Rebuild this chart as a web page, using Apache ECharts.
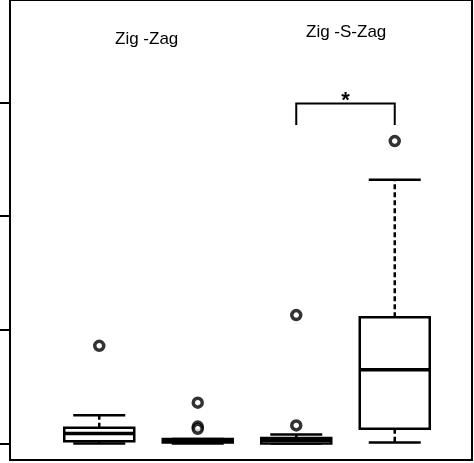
<!DOCTYPE html>
<html><head><meta charset="utf-8">
<script src="https://cdn.jsdelivr.net/npm/echarts@6/dist/echarts.min.js"></script>
<style>html,body{margin:0;background:#fff}#main{width:474px;height:463px}</style>
</head><body><div id="main"></div>
<script>
// groups (two per panel)
var categories = ['ZZ-A', 'ZZ-B', 'ZSZ-A', 'ZSZ-B'];
// [low, q1, median, q3, high]
var boxes = [
  [0.0, 0.02, 0.09, 0.14, 0.25],
  [0.0, 0.01, 0.02, 0.04, 0.04],
  [0.0, 0.0, 0.03, 0.05, 0.08],
  [0.01, 0.13, 0.65, 1.11, 2.32]
];
// [categoryIndex, value]
var outliers = [[0, 0.86], [1, 0.36], [1, 0.15], [1, 0.13], [2, 1.13], [2, 0.16], [3, 2.66]];
var panelTitles = ['Zig -Zag', 'Zig -S-Zag'];
var bracket = [[2, 3], 2.99, 2.8]; // groups, top, leg end
var yTicks = [0, 1, 2, 3];

var myChart = echarts.init(document.getElementById('main'));
var yMin = -0.144, yMax = 3.754;

function renderBox(params, api) {
  var i = api.value(0);
  var low = api.coord([i, api.value(1)]), q1 = api.coord([i, api.value(2)]),
      med = api.coord([i, api.value(3)]), q3 = api.coord([i, api.value(4)]),
      high = api.coord([i, api.value(5)]);
  var x = low[0], hw = 35, cw = 26;
  var st = {stroke: '#000', lineWidth: 2.5, fill: null};
  return {type: 'group', children: [
    {type: 'line', shape: {x1: x, y1: q3[1], x2: x, y2: high[1]}, style: {stroke: '#000', lineWidth: 2.5, lineDash: [5, 3]}},
    {type: 'line', shape: {x1: x, y1: q1[1], x2: x, y2: low[1]}, style: {stroke: '#000', lineWidth: 2.5, lineDash: [5, 3]}},
    {type: 'line', shape: {x1: x - cw, y1: high[1], x2: x + cw, y2: high[1]}, style: st},
    {type: 'line', shape: {x1: x - cw, y1: low[1], x2: x + cw, y2: low[1]}, style: st},
    {type: 'rect', shape: {x: x - hw, y: q3[1], width: 2 * hw, height: q1[1] - q3[1]}, style: {stroke: '#000', lineWidth: 2.5, fill: '#fff'}},
    {type: 'line', shape: {x1: x - hw, y1: med[1], x2: x + hw, y2: med[1]}, style: {stroke: '#000', lineWidth: 3.5}}
  ]};
}

function renderBracket(params, api) {
  var a = api.coord([bracket[0][0], bracket[1]]), b = api.coord([bracket[0][1], bracket[1]]);
  var e = api.coord([bracket[0][0], bracket[2]]);
  return {type: 'group', children: [
    {type: 'polyline', shape: {points: [[a[0], e[1]], a, b, [b[0], e[1]]]}, style: {stroke: '#000', lineWidth: 2, fill: null}},
    {type: 'text', x: (a[0] + b[0]) / 2, y: a[1] + 8, style: {text: '*', font: 'bold 22px Arial', fill: '#000', align: 'center', verticalAlign: 'bottom'}}
  ]};
}

var option = {
  animation: false,
  grid: [
    {left: 10, right: 2, top: -20, bottom: 3, show: true, borderColor: '#000', borderWidth: 2},
    {left: 50, right: 30, top: -20, bottom: 3}
  ],
  graphic: [
    {type: 'text', left: 115, top: 31, style: {text: panelTitles[0], font: '17px Arial', fill: '#000'}},
    {type: 'text', left: 306, top: 24, style: {text: panelTitles[1], font: '17px Arial', fill: '#000'}}
  ],
  xAxis: [
    {type: 'value', gridIndex: 0, show: false, min: 0, max: 1},
    {type: 'category', gridIndex: 1, data: categories, show: false}
  ],
  yAxis: [
    {type: 'value', gridIndex: 0, min: -0.144, max: 3.9, splitLine: {show: false},
     axisLine: {show: false}, axisLabel: {show: false},
     axisTick: {show: true, length: 10, customValues: yTicks, lineStyle: {color: '#000', width: 2}}},
    {type: 'value', gridIndex: 1, min: -0.144, max: 3.9, show: false}
  ],
  series: [
    {type: 'custom', xAxisIndex: 1, yAxisIndex: 1, renderItem: renderBox,
     data: boxes.map(function (b, i) { return [i].concat(b); })},
    {type: 'scatter', xAxisIndex: 1, yAxisIndex: 1, data: outliers, symbol: 'circle', symbolSize: 9,
     itemStyle: {color: '#fff', borderColor: '#000', borderWidth: 3.5}},
    {type: 'custom', xAxisIndex: 1, yAxisIndex: 1, renderItem: renderBracket, data: [[0, 0]]}
  ]
};
myChart.setOption(option);
</script></body></html>
